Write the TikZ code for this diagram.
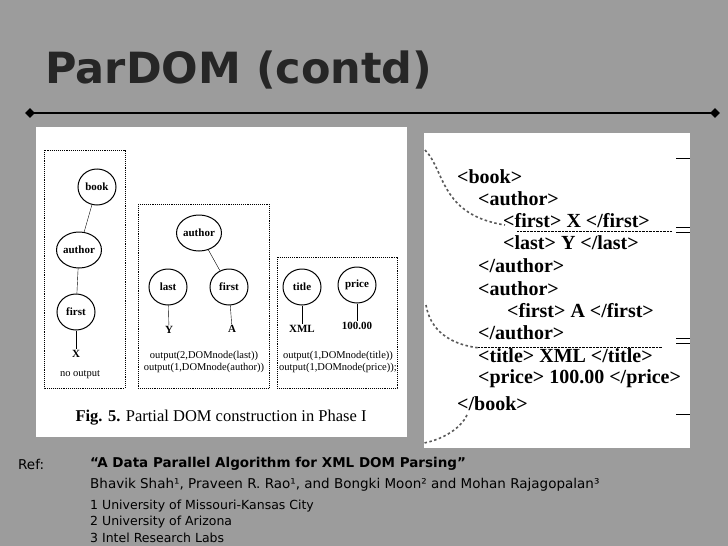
\documentclass[tikz,border=0pt]{standalone}
\usepackage{fontspec}
\setmainfont{DejaVu Sans}
\newfontfamily\tms{Liberation Serif}
\usetikzlibrary{shapes.geometric}
\begin{document}
\begin{tikzpicture}[x=1pt,y=-1pt,
 el/.style={draw,line width=1pt,ellipse,minimum width=38pt,minimum height=36pt,inner sep=0pt,font=\tms\bfseries\fontsize{11}{11}\selectfont},
 lf/.style={font=\tms\bfseries\fontsize{11}{11}\selectfont,inner sep=1pt},
 outtxt/.style={font=\tms\fontsize{10.5}{12}\selectfont,align=center,inner sep=0pt},
 dbox/.style={draw,densely dotted,line width=0.9pt},
 xml/.style={anchor=west,font=\tms\bfseries\fontsize{20}{20}\selectfont,inner sep=0pt},
 rf/.style={anchor=west,font=\fontsize{13.5}{13.5}\selectfont,inner sep=0pt,text=black},
 rs/.style={anchor=west,font=\fontsize{12.5}{12.5}\selectfont,inner sep=0pt,text=black},
 curve/.style={line width=1.6pt,draw=gray!70!black,dash pattern=on 2.5pt off 2.5pt}]
\useasboundingbox (0,0) rectangle (728,546);
\fill[gray!78] (0,0) rectangle (728,546);
\node[anchor=west,font=\bfseries\fontsize{43}{43}\selectfont,text=black!85] (title) at (42,70) {ParDOM (contd)};
\coordinate (la) at (30,113); \coordinate (lb) at (715,113);
\draw[line width=2pt] (la) -- (lb);
\node[diamond,fill=black,inner sep=2.5pt] at (la) {};
\node[diamond,fill=black,inner sep=2.5pt] at (lb) {};
% left panel
\fill[white] (36,127) rectangle (407,437);
\draw[dbox] (44,150) rectangle (125,388);
\draw[dbox] (138,204) rectangle (269,388);
\draw[dbox] (277,257) rectangle (397,388);
\node[el] (b1) at (97,187) {book};
\node[el] (a1) at (79,250) {author};
\node[el] (f1) at (76,312) {first};
\node[lf] (x1) at (76,354) {X};
\draw (b1)--(a1); \draw (a1)--(f1); \draw (f1)--(x1);
\node[outtxt] (no) at (80,375) {no output};
\node[el] (a2) at (199,233) {author};
\node[el] (l2) at (168,287) {last};
\node[el] (f2) at (229,287) {first};
\node[lf] (y2) at (169,330) {Y};
\node[lf] (aa2) at (232,329) {A};
\draw (a2)--(f2); \draw (l2)--(y2); \draw (f2)--(aa2);
\node[outtxt] (o2) at (204,362) {output(2,DOMnode(last))\\output(1,DOMnode(author))};
\node[el] (t3) at (302,287) {title};
\node[el] (p3) at (357,285) {price};
\node[lf] (xm) at (302,329) {XML};
\node[lf] (pr) at (357,326) {100.00};
\draw (t3)--(xm); \draw (p3)--(pr);
\node[outtxt] (o3) at (338,362) {output(1,DOMnode(title))\\output(1,DOMnode(price));};
\node[font=\tms\fontsize{16.5}{16.5}\selectfont] (cap) at (221,418) {\textbf{Fig. 5.} Partial DOM construction in Phase I};
% right panel
\fill[white] (424,133) rectangle (690,448);
\node[xml] at (457,177) {<book>};
\node[xml] at (478,199) {<author>};
\node[xml] at (503,221) {<first> X </first>};
\node[xml] at (503,243) {<last> Y </last>};
\node[xml] at (478,266) {</author>};
\node[xml] at (478,289) {<author>};
\node[xml] at (507,311) {<first> A </first>};
\node[xml] at (478,333) {</author>};
\node[xml] at (478,356) {<title> XML </title>};
\node[xml] at (478,379) {<price> 100.00 </price>};
\node[xml] at (457,404) {</book>};
\draw[densely dotted] (517,231) -- (672,231);
\draw[densely dotted] (478,347) -- (662,347);
\draw[line width=1pt] (676,158)--(690,158) (676,227)--(690,227) (676,232)--(690,232)
  (676,338)--(690,338) (676,343)--(690,343) (676,414)--(690,414);
\draw[curve] (425,150) .. controls (445,170) and (440,215) .. (505,225);
\draw[curve] (426,305) .. controls (430,330) and (450,345) .. (480,348);
\draw[curve] (467,415) .. controls (460,430) and (440,440) .. (424,443);
% refs
\node[rf] (ref) at (18,464) {Ref:};
\node[rf,font=\bfseries\fontsize{13.5}{13.5}\selectfont] at (90,464) {“A Data Parallel Algorithm for XML DOM Parsing”};
\node[rf] at (90,485) {Bhavik Shah¹, Praveen R. Rao¹, and Bongki Moon² and Mohan Rajagopalan³};
\node[rs] at (90,506) {1 University of Missouri-Kansas City};
\node[rs] at (90,522) {2 University of Arizona};
\node[rs] at (90,538) {3 Intel Research Labs};
\end{tikzpicture}
\end{document}
